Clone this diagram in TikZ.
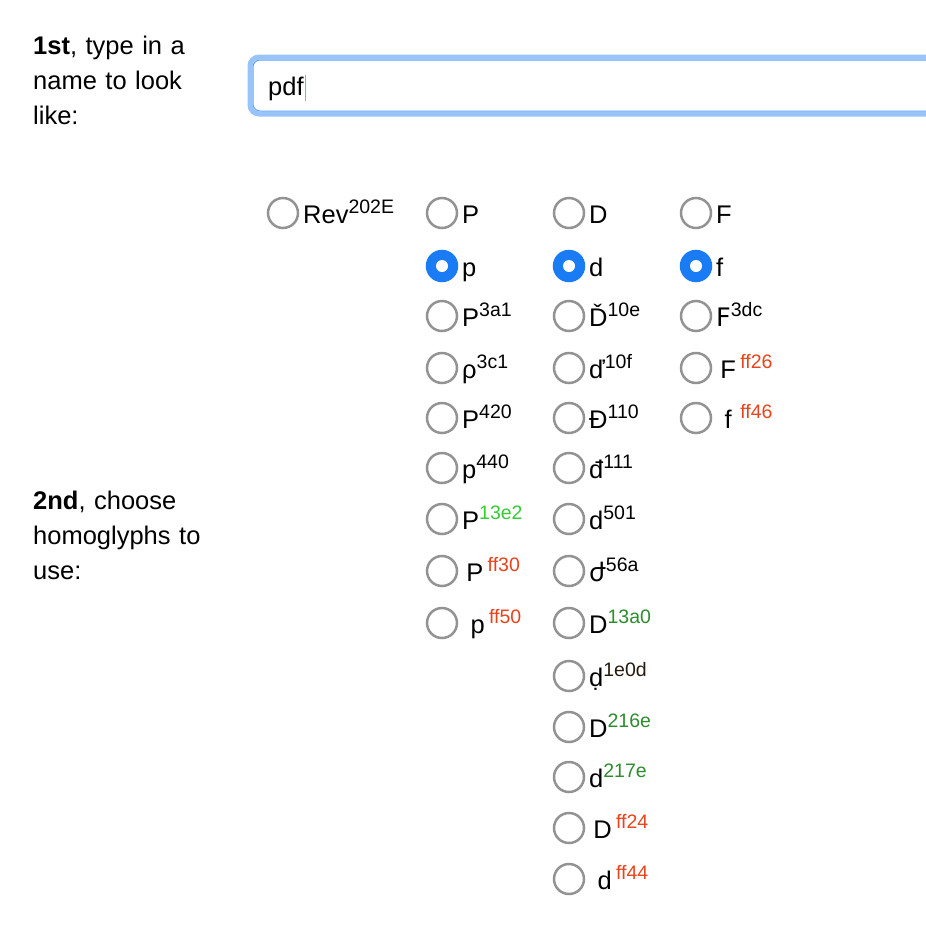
\documentclass[tikz,border=0pt]{standalone}
\usepackage{fontspec}
\setmainfont{Liberation Sans}
\newfontfamily\dv{DejaVu Sans}
\definecolor{rd}{HTML}{E8441C}
\definecolor{lg}{HTML}{33CC33}
\definecolor{dg}{HTML}{2E8B2E}
\definecolor{blu}{HTML}{1A7CF5}
\newcommand\supx[2][black]{\raisebox{10pt}{\fontsize{19.5}{20}\selectfont\textcolor{#1}{#2}}}
\begin{document}
\begin{tikzpicture}[x=1pt,y=-1pt,
  every node/.style={font=\fontsize{25.5}{35}\selectfont,inner sep=0pt},
  rb/.style={circle,draw=gray!85,line width=2.5pt,minimum size=30pt},
  rbs/.style={circle,fill=blu,draw=blu,line width=2.5pt,minimum size=30pt},
  lab/.style={anchor=base west}]
\useasboundingbox (0,0) rectangle (926,951);
\node[anchor=north west,align=left,text width=190pt] (l1) at (33,36) {\textbf{1st}, type in a\\name to look\\like:};
\node[anchor=north west,align=left,text width=200pt] (l2) at (33,491) {\textbf{2nd}, choose\\homoglyphs to\\use:};
\draw[blu!45,line width=5pt,rounded corners=9pt] (250,57) -- (940,57) -- (940,114) -- (250,114) -- cycle;
\draw[blu!70,line width=1pt,rounded corners=7pt] (253,60) -- (940,60) -- (940,111) -- (253,111) -- cycle;
\node[lab] (txt) at (268,95) {pdf};
\draw[blu!60,line width=1pt] (txt.east) ++(2,-13) -- ++(0,26);
\newcommand\rad[5]{%
  \node[rb] (c#1) at (#2,#3) {};
  \node[lab] (t#1) at (#2+20,#3+10) {#4#5};}
\newcommand\rads[5]{%
  \node[rbs] (c#1) at (#2,#3) {};
  \fill[white] (c#1) circle (6pt);
  \node[lab] (t#1) at (#2+20,#3+10) {#4#5};}
\rad{rev}{283}{213}{Rev}{\supx{202E}}
% column P
\rad{p1}{442}{213}{P}{}
\rads{p2}{442}{266}{p}{}
\rad{p3}{442}{316}{Ρ}{\supx{3a1}}
\rad{p4}{442}{368}{ρ}{\supx{3c1}}
\rad{p5}{442}{418}{Р}{\supx{420}}
\rad{p6}{442}{468}{р}{\supx{440}}
\rad{p7}{442}{519}{P}{\supx[lg]{13e2}}
\rad{p8}{442}{571}{\,P}{\,\supx[rd]{ff30}}
\rad{p9}{442}{623}{\,\,p}{\,\supx[rd]{ff50}}
% column D
\rad{d1}{569}{213}{D}{}
\rads{d2}{569}{266}{d}{}
\rad{d3}{569}{316}{Ď}{\supx{10e}}
\rad{d4}{569}{368}{ď}{\supx{10f}}
\rad{d5}{569}{418}{Đ}{\supx{110}}
\rad{d6}{569}{468}{đ}{\supx{111}}
\rad{d7}{569}{519}{d}{\supx{501}}
\rad{d8}{569}{571}{{\dv ժ}}{\supx{56a}}
\rad{d9}{569}{623}{D}{\supx[dg]{13a0}}
\rad{d10}{569}{676}{ḍ}{\supx[black!80!brown]{1e0d}}
\rad{d11}{569}{727}{D}{\supx[dg]{216e}}
\rad{d12}{569}{777}{d}{\supx[dg]{217e}}
\rad{d13}{569}{828}{\,D}{\,\supx[rd]{ff24}}
\rad{d14}{569}{879}{\,\,d}{\,\supx[rd]{ff44}}
% column F
\rad{f1}{696}{213}{F}{}
\rads{f2}{696}{266}{f}{}
\rad{f3}{696}{316}{{\dv Ϝ}}{\supx{3dc}}
\rad{f4}{696}{368}{\,F}{\,\supx[rd]{ff26}}
\rad{f5}{696}{418}{\,\,f}{\,\,\supx[rd]{ff46}}
\end{tikzpicture}
\end{document}
